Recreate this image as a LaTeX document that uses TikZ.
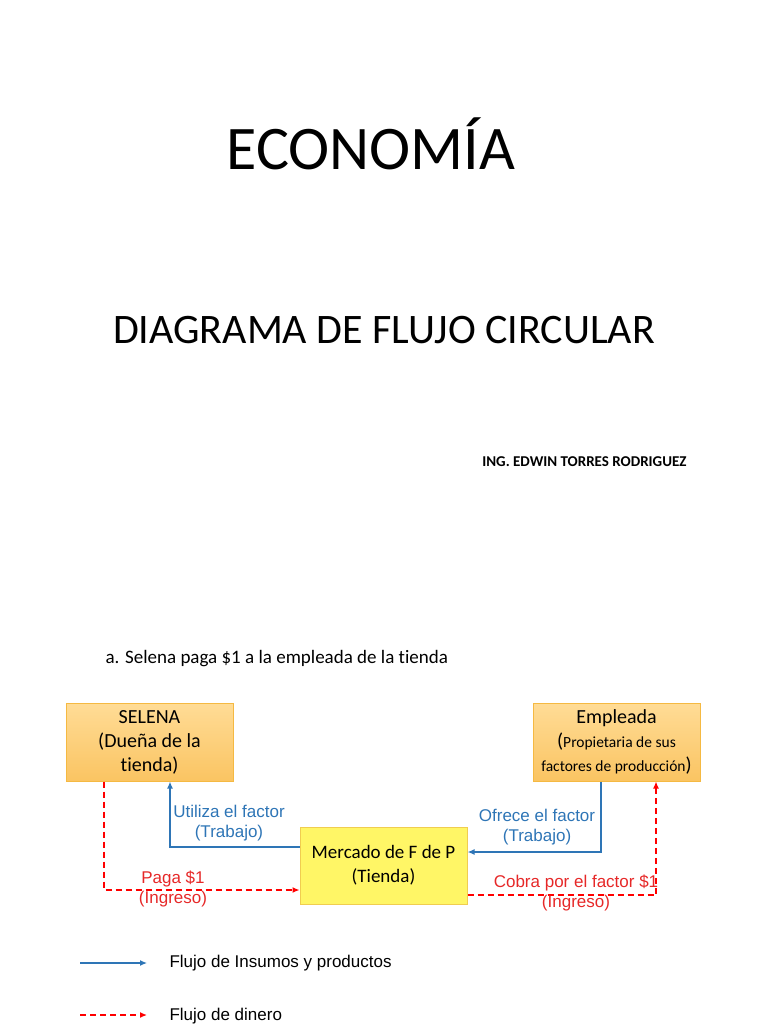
\documentclass[tikz,border=0pt]{standalone}
\usepackage{fontspec}
\setmainfont{Carlito}[Ligatures=CommonOff]
\newfontfamily\arialfont{Liberation Sans}
\usetikzlibrary{positioning,arrows.meta}
\definecolor{boxtop}{RGB}{255,220,150}
\definecolor{boxbot}{RGB}{250,196,98}
\definecolor{boxline}{RGB}{245,185,66}
\definecolor{mktfill}{RGB}{255,246,102}
\definecolor{mktline}{RGB}{240,205,80}
\definecolor{flowblue}{RGB}{46,117,182}
\definecolor{flowred}{RGB}{255,0,0}
\definecolor{labred}{RGB}{230,40,40}

\begin{document}
\begin{tikzpicture}[
    x=1pt,y=-1pt,
    agent/.style={draw=boxline,line width=1pt,top color=boxtop,bottom color=boxbot,
                  minimum width=167pt,minimum height=78pt,inner sep=2pt,align=center,
                  font=\fontsize{20}{24}\selectfont},
    market/.style={draw=mktline,line width=1pt,fill=mktfill,
                   minimum width=167pt,minimum height=77pt,inner sep=2pt,align=center,
                   font=\fontsize{19}{24}\selectfont},
    goods/.style={-{Latex[length=7pt,width=6pt]},draw=flowblue,line width=1.5pt},
    money/.style={-{Latex[length=7pt,width=6pt]},draw=flowred,line width=1.3pt,
                  dash pattern=on 6pt off 4pt},
    lab/.style={align=center,font=\arialfont\fontsize{17}{20}\selectfont},
    leg/.style={anchor=west,font=\arialfont\fontsize{17}{20}\selectfont},
  ]
    \useasboundingbox (0,0) rectangle (768,1024);
    \node[anchor=base,font=\fontsize{62}{70}\selectfont] (T1) at (371,170) {ECONOMÍA};
    \node[anchor=base,font=\fontsize{42}{50}\selectfont] (T2) at (384,343) {DIAGRAMA DE FLUJO CIRCULAR};
    \node[anchor=base east,font=\bfseries\fontsize{15}{18}\selectfont] (AUT) at (690,466) {ING. EDWIN TORRES RODRIGUEZ};
    \node[anchor=base west,font=\fontsize{19}{22}\selectfont] (Q) at (102,663) {a. Selena paga \$1 a la empleada de la tienda};
    \node[agent] (SEL) at (149.5,742) {SELENA\\(Dueña de la\\tienda)};
    \node[agent] (EMP) at (616.5,742) {Empleada\\({\fontsize{15.5}{24}\selectfont Propietaria de sus}\\{\fontsize{15.5}{24}\selectfont factores de producción})};
    \node[market] (MKT) at (383.5,865.5) {Mercado de F de P\\(Tienda)};
    \draw[goods] ([xshift=-15.5pt]EMP.south) |- ([yshift=13.5pt]MKT.east);
    \draw[goods] ([yshift=18.5pt]MKT.west) -| ([xshift=20.5pt]SEL.south);
    \draw[money] ([xshift=-45.5pt]SEL.south) |- ([yshift=-24.5pt]MKT.west);
    \draw[money] ([yshift=-29.5pt]MKT.east) -| ([xshift=39.5pt]EMP.south);
    \node[lab,text=flowblue] (L1) at (537,827) {Ofrece el factor\\(Trabajo)};
    \node[lab,text=flowblue] (L2) at (229,823) {Utiliza el factor\\(Trabajo)};
    \node[lab,text=labred] (L3) at (173,889) {Paga \$1\\(Ingreso)};
    \node[lab,text=labred] (L4) at (576,893) {Cobra por el factor \$1\\(Ingreso)};
    \coordinate (G1) at (80,963);
    \coordinate (G2) at (147,963);
    \coordinate (M1) at (80,1015);
    \coordinate (M2) at (147,1015);
    \draw[goods,line width=1.2pt] (G1) -- (G2);
    \draw[money] (M1) -- (M2);
    \node[leg] (LG1) at (166,963) {Flujo de Insumos y productos};
    \node[leg] (LG2) at (166,1016) {Flujo de dinero};
  \end{tikzpicture}
\end{document}
